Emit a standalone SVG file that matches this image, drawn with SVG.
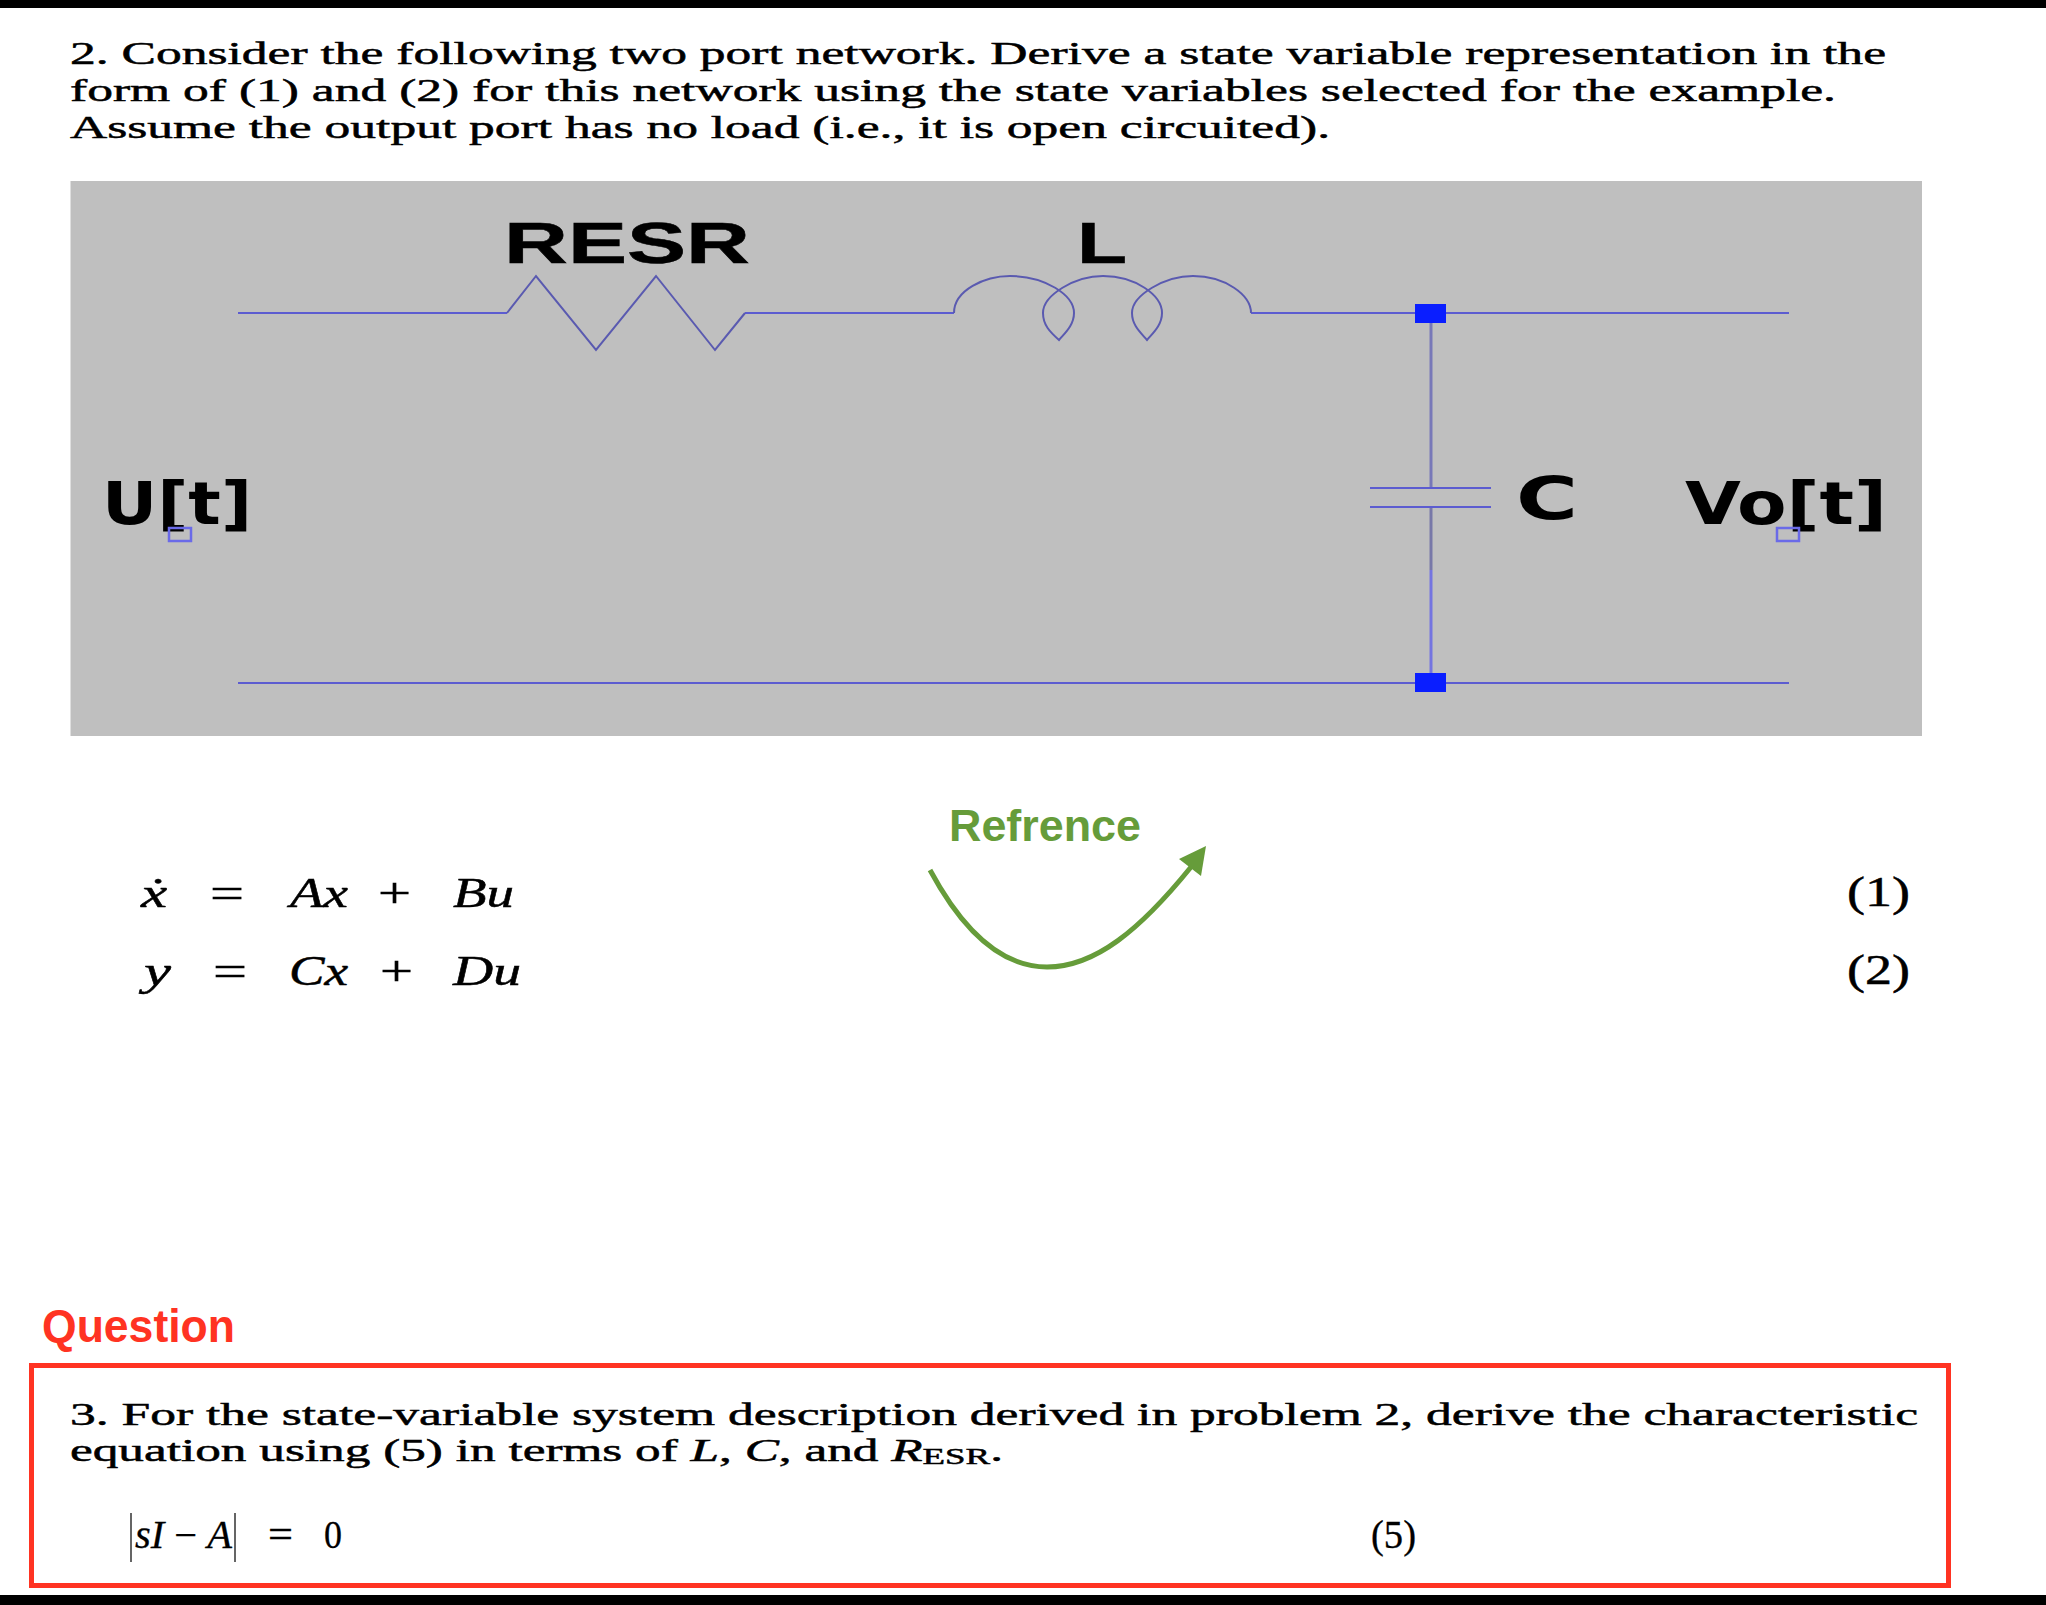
<svg xmlns="http://www.w3.org/2000/svg" width="2046" height="1605" viewBox="0 0 2046 1605">
<style>
.t{font-family:"Liberation Serif","Times New Roman",serif;font-size:32px;fill:#000;stroke:#000;stroke-width:.5px}
.m{font-family:"Liberation Serif","Times New Roman",serif;font-size:42px;fill:#000;stroke:#000;stroke-width:.5px}
.n{font-family:"Liberation Serif","Times New Roman",serif;font-size:39px;fill:#000;stroke:#000;stroke-width:.3px}
.i{font-style:italic}
.b{font-family:"Liberation Sans",Arial,sans-serif;font-weight:bold;font-size:58px;fill:#000;stroke:#000;stroke-width:.5px}
.d{font-family:"DejaVu Sans",Verdana,sans-serif;font-weight:bold;font-size:58px;fill:#000}
.w{fill:none;stroke:#5c5cd0;stroke-width:2}
.e{fill:none;stroke:#5a5ab0;stroke-width:2}
.j{fill:#0a1eff}
.p{fill:none;stroke:#6a6ae8;stroke-width:2.5}
</style>
<rect width="2046" height="1605" fill="#fff"/>
<rect id="top-bar" width="2046" height="8" fill="#000"/>
<rect id="bottom-bar" y="1595" width="2046" height="10" fill="#000"/>
<g id="problem-2">
<text class="t" x="70" y="64" textLength="1816" lengthAdjust="spacingAndGlyphs">2. Consider the following two port network. Derive a state variable representation in the</text>
<text class="t" x="70" y="101" textLength="1766" lengthAdjust="spacingAndGlyphs">form of (1) and (2) for this network using the state variables selected for the example.</text>
<text class="t" x="70" y="138" textLength="1260" lengthAdjust="spacingAndGlyphs">Assume the output port has no load (i.e., it is open circuited).</text>
</g>
<rect id="circuit-bg" x="70.500" y="181" width="1851.500" height="555" fill="#bfbfbf"/>
<g id="connectors">
<path class="w" d="M238 313H507"/>
<path class="w" d="M745 313H954"/>
<path class="w" d="M1251 313H1789"/>
<path class="w" d="M238 683H1789"/>
<path d="M1431 313V488" fill="none" stroke="#7878b8" stroke-width="3"/>
<path d="M1431 507V570" fill="none" stroke="#7878a8" stroke-width="3"/>
<path d="M1431 570V683" fill="none" stroke="#7474e0" stroke-width="3"/>
</g>
<g id="RESR">
<path class="e" d="M507 313L536 276L596 350L656 276L715 350L745 313"/>
<text class="b" x="504" y="263" textLength="246" lengthAdjust="spacingAndGlyphs">RESR</text>
</g>
<g id="L">
<path class="e" d="M954 313C954 290 985 276 1010 276C1045 276 1074 295 1074 313C1074 325 1065 333 1059 340C1050 332 1043 325 1043 313C1043 295 1075 276 1103 276C1135 276 1162 295 1162 313C1162 325 1153 333 1147 340C1140 332 1132 325 1132 313C1132 295 1165 276 1193 276C1225 276 1251 295 1251 313"/>
<text class="b" x="1077" y="263" textLength="50" lengthAdjust="spacingAndGlyphs">L</text>
</g>
<g id="C">
<path class="w" d="M1370 488H1491M1370 507H1491"/>
<text class="d" x="1516" y="519" textLength="62" lengthAdjust="spacingAndGlyphs">C</text>
</g>
<g id="junction-top"><rect class="j" x="1415" y="304" width="31" height="19"/></g>
<g id="junction-bottom"><rect class="j" x="1415" y="673" width="31" height="19"/></g>
<g id="port-in">
<text class="d" x="102" y="524" textLength="150" lengthAdjust="spacingAndGlyphs">U[t]</text>
<rect class="p" x="169" y="528" width="22" height="13"/>
</g>
<g id="port-out">
<text class="d" x="1685" y="524" textLength="202" lengthAdjust="spacingAndGlyphs">Vo[t]</text>
<rect class="p" x="1777" y="528" width="22" height="13"/>
</g>
<g id="equations">
<text class="m i" x="141" y="907" textLength="26" lengthAdjust="spacingAndGlyphs">ẋ</text>
<text class="m" x="210" y="907" textLength="34" lengthAdjust="spacingAndGlyphs">=</text>
<text class="m i" x="290" y="907" textLength="58" lengthAdjust="spacingAndGlyphs">Ax</text>
<text class="m" x="378" y="907" textLength="33" lengthAdjust="spacingAndGlyphs">+</text>
<text class="m i" x="453" y="907" textLength="61" lengthAdjust="spacingAndGlyphs">Bu</text>
<text class="m" x="1847" y="906" textLength="63" lengthAdjust="spacingAndGlyphs">(1)</text>
<text class="m i" x="144" y="985" textLength="27" lengthAdjust="spacingAndGlyphs">y</text>
<text class="m" x="213" y="985" textLength="34" lengthAdjust="spacingAndGlyphs">=</text>
<text class="m i" x="289" y="985" textLength="59" lengthAdjust="spacingAndGlyphs">Cx</text>
<text class="m" x="380" y="985" textLength="33" lengthAdjust="spacingAndGlyphs">+</text>
<text class="m i" x="453" y="985" textLength="68" lengthAdjust="spacingAndGlyphs">Du</text>
<text class="m" x="1847" y="984" textLength="63" lengthAdjust="spacingAndGlyphs">(2)</text>
</g>
<g id="refrence">
<text x="949" y="841" textLength="192" lengthAdjust="spacingAndGlyphs" font-family="Liberation Sans, Arial, sans-serif" font-weight="bold" font-size="45" fill="#669c3a">Refrence</text>
<path d="M930 870C965 935 1005 967 1047 967C1095 967 1140 930 1191 867" fill="none" stroke="#669c3a" stroke-width="5"/>
<polygon points="1206,846 1179,859 1201,876" fill="#669c3a"/>
</g>
<g id="question">
<text x="42" y="1342" textLength="193" lengthAdjust="spacingAndGlyphs" font-family="Liberation Sans, Arial, sans-serif" font-weight="bold" font-size="46" fill="#ff3322">Question</text>
<rect x="31.500" y="1365.500" width="1917" height="220" fill="none" stroke="#ff3322" stroke-width="5"/>
<text class="t" x="70" y="1425" textLength="1848" lengthAdjust="spacingAndGlyphs">3. For the state-variable system description derived in problem 2, derive the characteristic</text>
<text class="t" x="70" y="1461" textLength="933" lengthAdjust="spacingAndGlyphs">equation using (5) in terms of <tspan class="i">L</tspan>, <tspan class="i">C</tspan>, and <tspan class="i">R</tspan><tspan font-size="23" dy="3">ESR</tspan><tspan dy="-3">.</tspan></text>
<path d="M131 1513V1562M235 1513V1562" fill="none" stroke="#333" stroke-width="1.500"/>
<text class="n" x="135" y="1548" textLength="97" lengthAdjust="spacingAndGlyphs"><tspan class="i">sI</tspan> − <tspan class="i">A</tspan></text>
<text class="n" x="268" y="1548" textLength="25" lengthAdjust="spacingAndGlyphs">=</text>
<text class="n" x="324" y="1548" textLength="18" lengthAdjust="spacingAndGlyphs">0</text>
<text class="n" x="1371" y="1548" textLength="45" lengthAdjust="spacingAndGlyphs">(5)</text>
</g>
</svg>
